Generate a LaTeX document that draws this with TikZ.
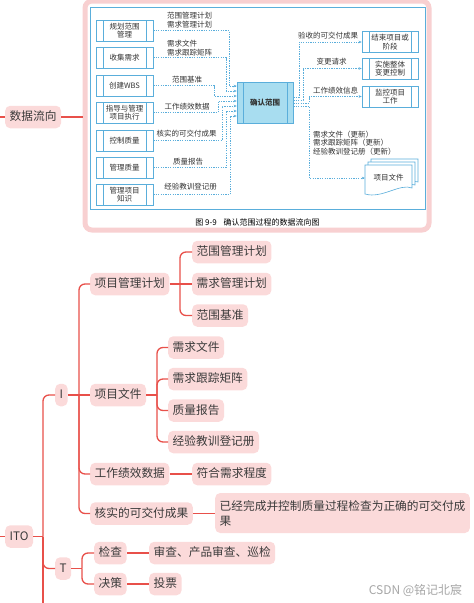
\documentclass[tikz,border=0pt]{standalone}
\usepackage{fontspec}
\setmainfont{Noto Sans CJK SC}
\usetikzlibrary{arrows.meta}
\definecolor{mmline}{HTML}{E8504A}
\definecolor{mmfill}{HTML}{FBDADA}
\definecolor{mmtext}{HTML}{3A3A3A}
\definecolor{pinkframe}{HTML}{F8D0D1}
\definecolor{blueline}{HTML}{5AAEDB}
\definecolor{cyanfill}{HTML}{A8DDF0}
\definecolor{imgtext}{HTML}{333333}
\newcommand\myimgfont{\fontsize{7.5}{8.7}\selectfont}
\begin{document}
\begin{tikzpicture}[x=1pt,y=-1pt,
 mmbase/.style={fill=mmfill, rounded corners=5pt, text=mmtext, font=\fontsize{11.7}{15}\selectfont, inner xsep=4.5pt, anchor=west},
 mm/.style={mmbase, inner ysep=0pt, minimum height=22.5pt, text height=9pt, text depth=2pt},
 link/.style={draw=mmline, line width=1.3pt},
 blink/.style={link, rounded corners=6pt},
 pbox/.style={draw=blueline, line width=0.6pt, fill=white, minimum width=57pt, minimum height=21pt, inner sep=0pt, align=center, font=\myimgfont, text=imgtext,
   path picture={\draw[blueline, line width=0.5pt] ([xshift=7pt]path picture bounding box.north west) -- ([xshift=7pt]path picture bounding box.south west) ([xshift=-7pt]path picture bounding box.north east) -- ([xshift=-7pt]path picture bounding box.south east);}},
 rbox/.style={pbox, minimum width=56pt},
 cbox/.style={pbox, fill=cyanfill, minimum width=56pt, minimum height=41pt, font=\myimgfont\bfseries,
   path picture={\draw[blueline, line width=0.5pt] ([xshift=6pt]path picture bounding box.north west) -- ([xshift=6pt]path picture bounding box.south west) ([xshift=-6pt]path picture bounding box.north east) -- ([xshift=-6pt]path picture bounding box.south east);}},
 lbl/.style={font=\myimgfont, text=imgtext, inner sep=0pt},
 dflow/.style={draw=blueline, line width=0.6pt, dash pattern=on 1.3pt off 1.1pt, -{Stealth[length=3pt,width=2.6pt]}}
]
\useasboundingbox (0,0) rectangle (474,603);

% ---------- picture frame ----------
\node[draw=pinkframe, line width=5pt, rounded corners=7pt, fill=white, minimum width=344pt, minimum height=229pt, inner sep=0pt] (img) at (257,115.5) {};
\draw[blueline, line width=0.6pt] (90,7) rectangle (425,209);

% left process boxes
\node[pbox] (l1) at (124.5,30.5) {规划范围\\管理};
\node[pbox] (l2) at (124.5,57.5) {收集需求};
\node[pbox] (l3) at (124.5,85.5) {创建WBS};
\node[pbox] (l4) at (124.5,112.5) {指导与管理\\项目执行};
\node[pbox] (l5) at (124.5,140.5) {控制质量};
\node[pbox] (l6) at (124.5,167.5) {管理质量};
\node[pbox] (l7) at (124.5,194.5) {管理项目\\知识};

% central box
\node[cbox] (cf) at (265,102.5) {确认范围};

% right boxes
\node[rbox] (r1) at (390,42) {结束项目或\\阶段};
\node[rbox] (r2) at (390,68.5) {实施整体\\变更控制};
\node[rbox] (r3) at (390,96.5) {监控项目\\工作};

% document stack
\foreach \d in {6,3,0} {
  \draw[blueline, line width=0.6pt, fill=white] (365+\d,165-\d) -- (412+\d,165-\d) -- (412+\d,188-\d) .. controls (400+\d,183-\d) and (382+\d,199-\d) .. (365+\d,194-\d) -- cycle;
}
\node[lbl, minimum width=47pt, minimum height=26pt] (doc) at (388.5,178) {项目文件};

% input flows
\draw[dflow] (l1.east) -| (229,86) -- (cf.west |- 0,86);
\draw[dflow] (l2.east) -| (226,91) -- (cf.west |- 0,91);
\draw[dflow] (l3.east) -| (214,96) -- (cf.west |- 0,96);
\draw[dflow] (l4.east) -| (218,101) -- (cf.west |- 0,101);
\draw[dflow] (l5.east) -| (222,106) -- (cf.west |- 0,106);
\draw[dflow] (l6.east) -| (226,111) -- (cf.west |- 0,111);
\draw[dflow] (l7.east) -| (230,116) -- (cf.west |- 0,116);

% output flows
\draw[dflow] (cf.east |- 0,97) -| (299,42) -- (r1.west);
\draw[dflow] (cf.east |- 0,100) -| (303,68.5) -- (r2.west);
\draw[dflow] (cf.east |- 0,103) -| (309,96.5) -- (r3.west);
\draw[dflow] (cf.east |- 0,106) -| (309,178) -- (doc.west);

% flow labels
\node[lbl, align=left, anchor=west] at (167,20) {范围管理计划\\需求管理计划};
\node[lbl, align=left, anchor=west] at (167,48) {需求文件\\需求跟踪矩阵};
\node[lbl] at (187,80) {范围基准};
\node[lbl] at (187,107) {工作绩效数据};
\node[lbl] at (186.5,134) {核实的可交付成果};
\node[lbl] at (188,162) {质量报告};
\node[lbl] at (190.5,187) {经验教训登记册};
\node[lbl] at (328,35.5) {验收的可交付成果};
\node[lbl] at (331.5,62) {变更请求};
\node[lbl] at (335.5,91) {工作绩效信息};
\node[lbl, align=left, anchor=west] at (313,143) {需求文件（更新）\\需求跟踪矩阵（更新）\\经验教训登记册（更新）};
\node[lbl, font=\fontsize{8}{9}\selectfont, text=black] at (257.5,222.5) {图 9-9\hspace{7pt}确认范围过程的数据流向图};

% ---------- mind map ----------
\node[mm] (dl) at (5,117) {数据流向};
\node[mm] (ito) at (5,536.5) {ITO};
\node[mm] (iN) at (55,395) {I};
\node[mm] (tN) at (55,568.5) {T};
\node[mm] (pmp) at (90,284) {项目管理计划};
\node[mm] (pf) at (90,395) {项目文件};
\node[mm] (wpd) at (90,474) {工作绩效数据};
\node[mm] (vd) at (90,513.5) {核实的可交付成果};
\node[mm] (smp) at (192,252) {范围管理计划};
\node[mm] (rmp) at (192,284) {需求管理计划};
\node[mm] (sb) at (192,315.5) {范围基准};
\node[mm] (rd) at (168,347.5) {需求文件};
\node[mm] (rtm) at (168,379) {需求跟踪矩阵};
\node[mm] (qr) at (168,410.5) {质量报告};
\node[mm] (ll) at (168,442) {经验教训登记册};
\node[mm] (mr) at (192,474) {符合需求程度};
\node[mmbase, align=left, inner ysep=5pt, minimum height=40pt] (vdd) at (215,513) {已经完成并控制质量过程检查为正确的可交付成\\果};
\node[mm] (chk) at (94,553) {检查};
\node[mm] (dec) at (94,584) {决策};
\node[mm] (chk2) at (149,553) {审查、产品审查、巡检};
\node[mm] (vote) at (149,584) {投票};

\coordinate (rootA) at (0,117);
\coordinate (rootB) at (0,536.5);
\coordinate (tr) at (43,536.5);
\coordinate (tbot) at (43,603);
\coordinate (bI) at (79,395);
\coordinate (bP) at (180,284);
\coordinate (bF) at (157,395);
\coordinate (bT) at (82,568.5);

\draw[link] (rootA) -- (dl.west);
\draw[link] (dl.east) -- (dl.east -| img.west);
\draw[link] (rootB) -- (ito.west);
\draw[link] (ito.east) -- (tr);
\draw[blink] (tr) |- (iN.west);
\draw[blink] (tr) |- (tN.west);
\draw[link] (tr) -- (tbot);

\draw[link] (iN.east) -- (bI);
\draw[blink] (bI) |- (pmp.west);
\draw[link] (bI) -- (pf.west);
\draw[blink] (bI) |- (wpd.west);
\draw[blink] (bI) |- (vd.west);

\draw[link] (pmp.east) -- (bP);
\draw[blink] (bP) |- (smp.west);
\draw[link] (bP) -- (rmp.west);
\draw[blink] (bP) |- (sb.west);

\draw[link] (pf.east) -- (bF);
\draw[blink] (bF) |- (rd.west);
\draw[blink] (bF) |- (rtm.west);
\draw[blink] (bF) |- (qr.west);
\draw[blink] (bF) |- (ll.west);

\draw[link] (wpd.east) -- (mr.west);
\draw[link] (vd.east) -- (vd.east -| vdd.west);

\draw[link] (tN.east) -- (bT);
\draw[blink] (bT) |- (chk.west);
\draw[blink] (bT) |- (dec.west);
\draw[link] (chk.east) -- (chk2.west);
\draw[link] (dec.east) -- (vote.west);

\node[font=\fontsize{12}{14}\selectfont, text=black!35, inner sep=0pt] (wm) at (415.5,590) {CSDN @铭记北宸};
\end{tikzpicture}
\end{document}
